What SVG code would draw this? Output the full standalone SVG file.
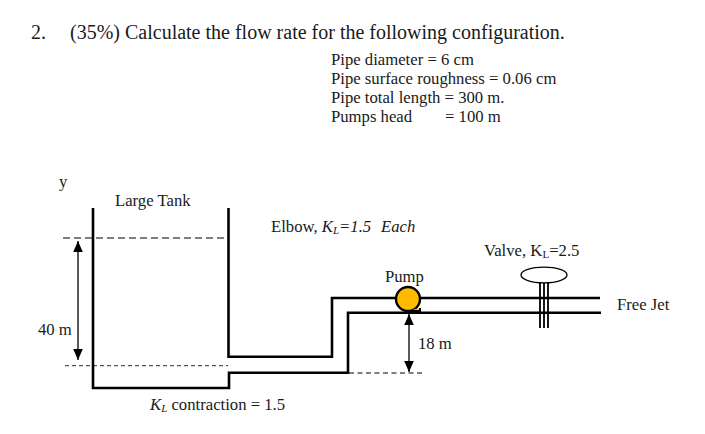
<svg xmlns="http://www.w3.org/2000/svg" width="705" height="434" viewBox="0 0 705 434">
<style>
text{font-family:"Liberation Serif","Times New Roman",serif;font-size:16.7px;fill:#1a1a1a}
.h{font-size:20px}
.p{fill:none;stroke:#000;stroke-width:2.6;stroke-linejoin:miter}
.d{fill:none;stroke:#555;stroke-width:1.3}
.a{stroke:#000;stroke-width:1.3;fill:none}
.s{stroke:#000;stroke-width:1.8;fill:none}
</style>
<defs>
<marker id="ah" markerUnits="userSpaceOnUse" markerWidth="12" markerHeight="10" refX="11" refY="5" orient="auto-start-reverse"><path d="M0 0.2L11 5L0 9.8Z" fill="#000"/></marker>
</defs>
<rect width="705" height="434" fill="#fff"/>
<g id="title">
<text class="h" x="31" y="39">2.</text>
<text class="h" x="70" y="39">(35%) Calculate the flow rate for the following configuration.</text>
</g>
<g id="data">
<text x="331" y="65">Pipe diameter = 6 cm</text>
<text x="331" y="84">Pipe surface roughness = 0.06 cm</text>
<text x="331" y="103">Pipe total length = 300 m.</text>
<text x="331" y="122">Pumps head</text>
<text x="445" y="122">= 100 m</text>
</g>
<g id="connectors">
<path class="d" stroke-dasharray="7 4" d="M63 238H228"/>
<path class="d" stroke-dasharray="4 3" d="M65 365.7H228"/>
<path class="d" stroke-dasharray="5 3.5" d="M349 373H425"/>
<path class="a" marker-start="url(#ah)" marker-end="url(#ah)" d="M78 241V360"/>
<path class="a" marker-start="url(#ah)" marker-end="url(#ah)" d="M409 314V372"/>
</g>
<g id="tank-pipe">
<path class="p" d="M93 208V388H229V372.7H348V312.7H601"/>
<path class="p" d="M228.500 208V356.700H332V298H600"/>
</g>
<g id="pump">
<circle cx="408" cy="299" r="12" fill="#ffb900" stroke="#000" stroke-width="2.400"/>
<path d="M408 311H420V308" fill="#ffb900" stroke="#000" stroke-width="2"/>
</g>
<g id="valve">
<ellipse cx="544" cy="275" rx="23" ry="7.800" fill="#fff" stroke="#000" stroke-width="1.300"/>
<path class="s" d="M540 283V328M544 283V328M548 283V328"/>
</g>
<g id="labels">
<text x="59" y="187">y</text>
<text x="115" y="206">Large Tank</text>
<text x="271" y="232">Elbow, <tspan font-style="italic">K</tspan><tspan font-style="italic" font-size="11" dy="2">L</tspan><tspan font-style="italic" dy="-2">=1.5</tspan><tspan font-style="italic" x="381">Each</tspan></text>
<text x="484" y="256">Valve, K<tspan font-size="11" dy="2">L</tspan><tspan dy="-2">=2.5</tspan></text>
<text x="385" y="282">Pump</text>
<text x="617" y="310">Free Jet</text>
<text x="38" y="335">40 m</text>
<text x="418" y="349">18 m</text>
<text x="150" y="410"><tspan font-style="italic">K</tspan><tspan font-style="italic" font-size="11" dy="2">L</tspan><tspan dy="-2"> contraction = 1.5</tspan></text>
</g>
</svg>
